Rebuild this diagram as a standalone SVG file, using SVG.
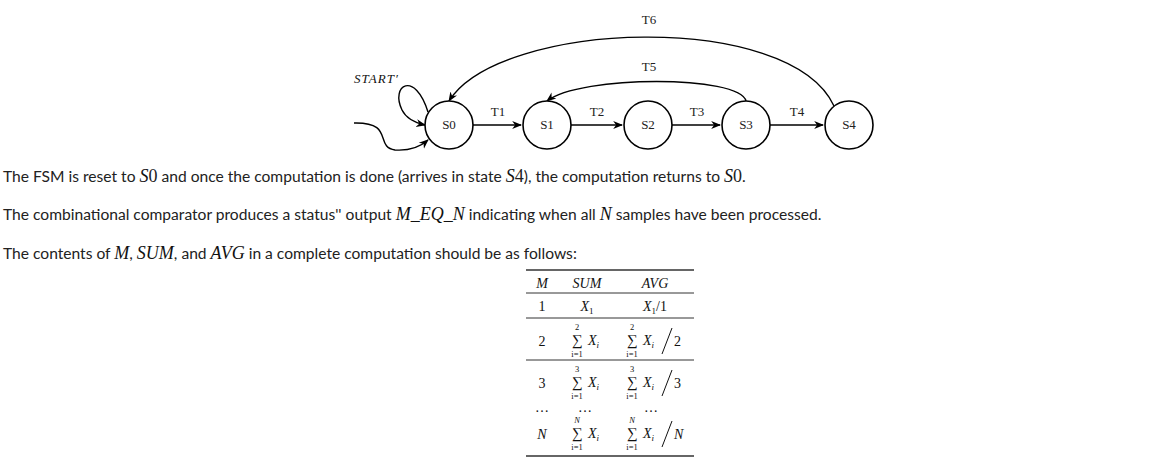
<svg xmlns="http://www.w3.org/2000/svg" width="1165" height="469" viewBox="0 0 1165 469">
<defs>
<style>
.n{fill:#fff;stroke:#000;stroke-width:1.6}
.e{fill:none;stroke:#000;stroke-width:1.4}
.t{font-family:"Liberation Serif",serif;font-size:13px;fill:#222;text-anchor:middle}
.m{font-family:"Liberation Serif",serif;font-style:italic;fill:#111}
.p{font-family:Lato,"Liberation Sans",sans-serif;font-size:15.6px;fill:#222}
.r{stroke:#333;fill:none}
</style>
<marker id="a" viewBox="0 0 10 10" refX="9" refY="5" markerWidth="7" markerHeight="7" orient="auto"><path d="M0,1 L10,5 L0,9 L3,5z" fill="#000"/></marker>
</defs>
<rect width="1165" height="469" fill="#fff"/>
<g id="connectors">
<path class="e" d="M473,125 H521" marker-end="url(#a)"/>
<path class="e" d="M571,125 H622" marker-end="url(#a)"/>
<path class="e" d="M672,125 H720" marker-end="url(#a)"/>
<path class="e" d="M770,125 H823" marker-end="url(#a)"/>
<path class="e" d="M746,101 C740,75 580,75 547,101" marker-end="url(#a)"/>
<path class="e" d="M834,106 C790,10 500,20 449,101" marker-end="url(#a)"/>
<path class="e" d="M428,112 C415,70 390,85 402,110 C406,118 416,123 425,125" marker-end="url(#a)"/>
<path class="e" d="M354,123 C395,122 374,147 395,150 C410,151 420,147 428,140" marker-end="url(#a)"/>
<text class="t" x="498" y="116">T1</text>
<text class="t" x="597" y="116">T2</text>
<text class="t" x="697" y="116">T3</text>
<text class="t" x="797" y="116">T4</text>
<text class="t" x="649" y="71">T5</text>
<text class="t" x="649" y="24">T6</text>
<text class="m" x="354" y="83" font-size="13" letter-spacing="1">START′</text>
</g>
<g id="S0"><circle class="n" cx="449" cy="125" r="24"/><text class="t" x="449" y="129">S0</text></g>
<g id="S1"><circle class="n" cx="547" cy="125" r="24"/><text class="t" x="547" y="129">S1</text></g>
<g id="S2"><circle class="n" cx="648" cy="125" r="24"/><text class="t" x="648" y="129">S2</text></g>
<g id="S3"><circle class="n" cx="746" cy="125" r="24"/><text class="t" x="746" y="129">S3</text></g>
<g id="S4"><circle class="n" cx="849" cy="125" r="24"/><text class="t" x="849" y="129">S4</text></g>
<text class="p" x="3" y="182">The FSM is reset to <tspan class="m" font-size="18">S</tspan><tspan font-family="Liberation Serif" font-size="18">0</tspan> and once the computation is done (arrives in state <tspan class="m" font-size="18">S</tspan><tspan font-family="Liberation Serif" font-size="18">4</tspan>), the computation returns to <tspan class="m" font-size="18">S</tspan><tspan font-family="Liberation Serif" font-size="18">0</tspan>.</text>
<text class="p" x="3" y="220">The combinational comparator produces a status'' output <tspan class="m" font-size="18">M_EQ_N</tspan> indicating when all <tspan class="m" font-size="18">N</tspan> samples have been processed.</text>
<text class="p" x="3" y="259">The contents of <tspan class="m" font-size="18">M</tspan>, <tspan class="m" font-size="18">SUM</tspan>, and <tspan class="m" font-size="18">AVG</tspan> in a complete computation should be as follows:</text>
<g id="table" font-family="Liberation Serif,serif" font-size="14" fill="#111" text-anchor="middle">
<line class="r" x1="526" y1="270" x2="694" y2="270" stroke-width="1.5"/>
<line class="r" x1="526" y1="293" x2="694" y2="293"/>
<line class="r" x1="526" y1="318" x2="694" y2="318"/>
<line class="r" x1="526" y1="360" x2="694" y2="360"/>
<line class="r" x1="526" y1="456" x2="694" y2="456" stroke-width="1.5"/>
<text x="542" y="288" font-style="italic">M</text><text x="587" y="288" font-style="italic">SUM</text><text x="655" y="288" font-style="italic">AVG</text>
<text x="542" y="311">1</text><text x="587" y="311"><tspan font-style="italic">X</tspan><tspan font-size="9" dy="3">1</tspan></text><text x="655" y="311"><tspan font-style="italic">X</tspan><tspan font-size="9" dy="3">1</tspan><tspan dy="-3">/1</tspan></text>
<text x="542" y="346">2</text><text x="542" y="388">3</text><text x="542" y="412">…</text><text x="542" y="439" font-style="italic">N</text>
<text x="585" y="412">…</text><text x="651" y="412">…</text>
<g font-size="8.5">
<text x="577" y="330">2</text><text x="577" y="357">i=1</text><text x="632" y="330">2</text><text x="632" y="357">i=1</text>
<text x="577" y="372">3</text><text x="577" y="399">i=1</text><text x="632" y="372">3</text><text x="632" y="399">i=1</text>
<text x="577" y="423" font-style="italic">N</text><text x="577" y="450">i=1</text><text x="632" y="423" font-style="italic">N</text><text x="632" y="450">i=1</text>
</g>
<g font-size="15"><text x="577" y="345">∑</text><text x="632" y="345">∑</text><text x="577" y="387">∑</text><text x="632" y="387">∑</text><text x="577" y="438">∑</text><text x="632" y="438">∑</text></g>
<g text-anchor="start">
<text x="588" y="345"><tspan font-style="italic">X</tspan><tspan font-size="9" font-style="italic" dy="3">i</tspan></text>
<text x="643" y="345"><tspan font-style="italic">X</tspan><tspan font-size="9" font-style="italic" dy="3">i</tspan></text>
<text x="588" y="387"><tspan font-style="italic">X</tspan><tspan font-size="9" font-style="italic" dy="3">i</tspan></text>
<text x="643" y="387"><tspan font-style="italic">X</tspan><tspan font-size="9" font-style="italic" dy="3">i</tspan></text>
<text x="588" y="438"><tspan font-style="italic">X</tspan><tspan font-size="9" font-style="italic" dy="3">i</tspan></text>
<text x="643" y="438"><tspan font-style="italic">X</tspan><tspan font-size="9" font-style="italic" dy="3">i</tspan></text>
<text x="674" y="346">2</text><text x="674" y="388">3</text><text x="674" y="439" font-style="italic">N</text>
</g>
<path d="M672,328 L662,354 M672,370 L662,396 M672,421 L662,447" stroke="#111" stroke-width="1"/>
</g>
</svg>
